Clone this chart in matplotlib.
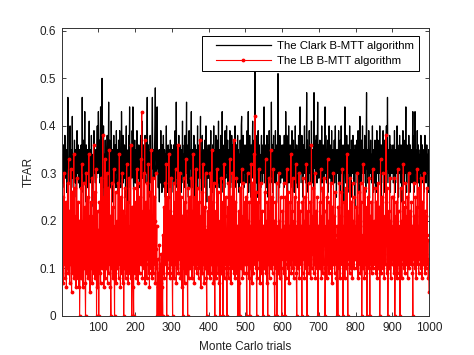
import matplotlib
matplotlib.use("Agg")
import matplotlib.pyplot as plt
from matplotlib.legend_handler import HandlerLine2D
import numpy as np

# TFAR values (in percent) for 1000 Monte Carlo trials
clark_pct = [
    31,34,28,33,36,30,27,32,38,31, 29,35,33,26,31,37,46,34,30,32, 28,33,40,31,24,33,35,29,42,32, 30,27,34,31,37,33,28,35,32,25, 33,39,30,31,36,28,32,35,30,27,
    33,29,36,31,26,46,34,30,37,32, 28,34,43,30,33,24,36,29,33,27, 35,31,27,34,41,30,33,28,35,31, 38,32,27,34,30,23,32,39,30,34, 31,28,35,33,29,34,40,30,33,43,
    34,30,37,28,32,44,31,35,29,50, 35,27,32,40,30,25,34,29,37,31, 28,35,32,38,30,26,33,45,31,29, 37,32,27,30,41,34,29,24,35,31, 32,38,28,34,30,36,29,27,39,32,
    30,35,31,26,37,33,28,39,30,34, 27,32,43,35,29,31,38,28,34,30, 36,29,32,25,35,40,30,33,23,31, 35,29,38,32,44,30,27,36,31,34, 29,39,32,44,30,26,35,31,37,28,
    32,28,35,30,39,31,24,34,29,36, 31,34,27,32,38,30,26,34,41,29, 34,30,36,27,32,29,38,31,28,35, 30,39,46,32,28,36,31,25,35,30, 38,32,28,34,26,36,46,31,35,29,
    34,29,36,40,48,35,30,32,38,44, 31,35,27,33,30,24,35,32,28,39, 30,34,26,36,31,28,38,32,27,35, 32,25,34,30,40,28,35,31,26,36, 31,35,28,32,27,37,30,34,36,29,
    35,30,32,26,36,31,28,34,39,30, 27,45,32,29,35,31,24,34,38,30, 32,36,28,34,26,35,30,32,41,31, 28,34,27,36,31,38,29,32,35,45, 30,34,28,36,25,32,39,31,27,35,
    31,36,43,29,34,27,35,32,28,38, 30,25,34,36,31,28,35,23,32,40, 29,34,30,36,27,32,35,42,29,34, 26,32,38,29,35,31,27,34,30,37, 32,28,40,31,24,35,29,34,36,29,
    34,30,36,27,32,39,29,35,31,26, 36,32,28,40,30,34,27,35,31,38, 29,24,34,37,28,32,41,31,27,35, 32,29,38,30,34,26,43,31,36,28, 35,30,32,27,39,31,29,34,40,30,
    32,37,28,34,26,35,31,39,30,27, 34,30,38,32,28,36,31,24,35,32, 29,40,31,34,27,36,30,32,38,28, 35,31,26,34,30,37,32,28,40,42, 30,34,28,38,32,27,35,31,36,30,
    34,28,36,31,39,30,32,43,26,35, 31,38,28,34,25,36,32,30,35,41, 29,34,31,37,27,53,32,30,38,28, 35,31,25,34,39,30,32,36,28,34, 31,27,35,38,30,32,28,36,34,30,
    44,32,28,36,31,35,27,34,38,30, 32,25,36,31,39,28,34,30,35,32, 45,31,28,36,26,34,38,30,32,35, 28,39,31,34,24,36,30,32,51,35, 30,34,27,38,32,28,36,31,34,29,
    32,36,30,34,27,38,31,35,28,43, 34,30,38,32,25,35,31,40,28,34, 30,36,32,27,35,31,39,28,34,30, 37,32,26,35,30,40,31,34,28,36, 32,27,35,30,38,31,34,28,44,32,
    30,35,31,38,28,34,25,36,32,30, 40,31,35,28,34,32,47,30,37,31, 26,35,32,39,30,34,28,36,31,41, 32,28,35,30,34,24,47,32,37,31, 35,30,38,32,28,34,45,31,36,29,
    34,30,37,32,26,35,31,40,28,34, 30,36,32,25,35,31,44,30,38,32, 28,35,31,37,26,34,30,40,32,29, 36,31,34,27,39,30,32,35,28,34, 31,37,28,32,40,30,35,25,34,31,
    35,30,32,39,28,34,31,37,26,32, 40,30,35,31,28,36,32,24,34,30, 44,32,28,35,31,38,30,34,26,36, 31,34,30,40,28,35,32,25,37,31, 34,30,38,32,28,35,31,23,36,32,
    30,35,31,37,28,34,39,30,32,26, 35,42,31,34,28,37,32,30,40,31, 34,28,35,31,38,30,32,26,36,47, 31,35,28,34,30,39,32,25,35,31, 37,30,34,28,32,40,31,35,26,34,
    32,28,37,31,35,26,34,39,30,32, 37,31,28,35,32,40,30,34,25,36, 31,35,30,32,39,28,34,31,37,26, 35,30,32,40,28,34,46,31,35,30, 34,28,38,32,26,36,31,35,30,34,
    31,36,28,34,30,39,32,26,35,31, 34,30,40,28,36,32,25,35,31,38, 30,34,28,36,32,24,35,31,39,30, 32,37,28,34,30,35,44,31,26,36, 32,30,35,28,38,31,34,26,36,32,
    30,35,32,28,36,43,31,34,26,38, 32,43,30,35,28,34,31,39,30,32, 36,28,34,31,25,35,32,38,30,34, 28,36,31,35,32,26,34,30,38,32, 35,28,32,36,31,34,30,26,35,29,
]

lb_pct = [
    13,9,19,25,7,15,30,11,21,8, 14,24,6,19,10,28,16,9,33,12, 22,7,16,11,31,18,5,14,26,9, 19,12,34,8,17,27,10,21,6,15, 29,11,18,8,24,13,6,20,0,10,
    17,27,8,14,32,11,20,6,18,28, 10,15,23,7,0,13,30,9,19,14, 25,8,16,34,11,21,5,15,24,10, 18,29,7,13,21,11,36,9,16,26, 8,19,12,31,0,15,6,22,11,18,
    0,14,24,9,18,7,29,12,21,10, 16,38,11,25,6,19,13,33,8,15, 22,10,30,12,7,18,27,9,15,35, 11,21,6,0,16,28,10,14,23,8, 17,31,12,0,19,9,26,7,15,11,
    20,10,16,28,8,14,34,11,19,6, 25,12,17,9,30,15,7,22,0,13, 10,27,16,8,21,12,32,9,18,24, 7,15,29,11,19,9,14,36,8,16, 0,23,11,18,6,0,27,13,9,20,
    12,24,8,16,31,10,19,7,28,13, 18,9,25,15,33,11,20,43,12,8, 22,14,30,10,17,37,7,14,24,11, 19,8,28,12,16,32,9,22,6,15, 26,10,18,35,12,8,21,13,29,9,
    16,25,11,20,7,30,14,10,19,0, 12,6,9,0,8,15,5,0,11,7, 13,0,10,6,0,17,9,23,12,8, 20,28,11,16,32,0,15,9,25,12, 19,34,10,15,8,22,13,29,11,18,
    9,0,21,12,28,8,16,24,11,31, 14,7,19,26,10,16,36,9,15,22, 12,30,8,18,11,25,6,15,21,0, 13,29,10,19,7,24,12,33,9,16, 22,11,0,18,27,8,15,10,25,13,
    19,10,29,14,8,22,16,34,11,18, 7,25,12,20,10,31,15,9,19,27, 11,16,8,24,13,37,10,18,6,21, 12,26,9,16,32,11,19,7,15,23, 10,30,14,8,0,18,11,22,9,15,
    25,12,18,8,30,11,20,15,35,9, 16,24,7,14,28,10,0,19,12,22, 8,15,31,11,18,9,26,13,7,20, 0,16,11,29,9,19,12,24,0,15, 10,32,13,8,21,11,25,16,9,0,
    15,23,10,28,8,18,12,33,11,19, 7,25,14,16,30,10,20,9,37,12, 18,8,24,11,15,29,9,19,13,0, 11,22,16,7,0,27,12,18,10,31, 15,8,21,12,28,9,16,24,11,19,
    14,25,9,0,18,30,11,20,8,15, 24,0,12,19,10,32,16,7,28,12, 20,9,34,15,11,42,18,10,26,13, 0,19,8,24,12,16,31,10,20,7, 15,28,11,18,9,22,13,0,19,11,
    18,10,26,13,33,9,20,12,7,24, 0,16,11,29,15,8,22,12,35,10, 19,13,25,9,16,31,11,20,7,0, 15,24,10,18,28,0,12,19,9,16, 30,11,20,8,15,25,10,18,0,13,
    22,12,16,28,9,19,11,0,25,15, 8,20,31,12,18,10,26,14,7,19, 11,24,15,34,9,16,22,12,29,10, 18,8,20,13,25,11,32,16,9,0, 19,12,24,10,15,30,8,18,13,22,
    11,19,15,0,24,9,16,29,12,20, 8,14,25,17,10,32,12,0,16,22, 11,28,15,9,19,12,24,8,17,36, 10,16,21,13,27,9,19,11,30,15, 8,22,12,18,10,25,15,0,19,11,
    16,24,10,19,31,12,8,21,14,27, 9,17,11,29,15,22,0,10,19,12, 25,8,16,33,11,20,13,9,24,15, 18,10,28,12,19,7,23,15,11,30, 13,21,9,17,26,11,16,8,0,19,
    12,0,23,15,10,28,17,8,21,13, 26,11,16,31,9,0,19,12,24,15, 8,21,13,27,10,17,34,11,0,16, 22,12,19,9,29,15,10,24,13,18, 8,28,11,20,15,10,25,16,12,19,
    15,23,10,18,30,12,8,21,13,26, 11,19,9,28,15,24,0,12,17,10, 32,13,20,8,16,27,11,19,9,23, 0,15,25,12,18,10,29,13,0,21, 11,16,24,9,19,13,31,10,17,12,
    20,11,17,27,9,15,24,12,8,19, 28,10,16,13,23,0,11,33,15,9, 19,25,12,17,10,30,13,8,21,16, 11,24,38,15,19,9,27,0,12,22, 16,10,29,13,20,8,17,25,11,15,
    19,12,25,9,16,29,0,13,21,10, 24,15,8,17,31,11,22,13,9,19, 0,16,27,11,20,8,15,24,12,32, 10,17,13,23,9,28,16,11,21,12, 25,8,19,15,30,10,17,13,22,11,
    15,24,11,19,9,0,17,28,12,21, 10,16,25,13,8,23,12,31,15,11, 19,9,27,16,12,21,10,29,13,17, 8,24,15,11,19,30,12,16,9,22, 13,21,10,17,27,11,16,8,12,5,
]

x_ticks = [100, 200, 300, 400, 500, 600, 700, 800, 900, 1000]
y_ticks = [0, 0.1, 0.2, 0.3, 0.4, 0.5, 0.6]
y_tick_labels = ["0", "0.1", "0.2", "0.3", "0.4", "0.5", "0.6"]
series_labels = ["The Clark B-MTT algorithm", "The LB B-MTT algorithm"]

clark = np.array(clark_pct) / 100.0
lb = np.array(lb_pct) / 100.0
trials = np.arange(1, len(clark) + 1)

plt.rcParams['font.family'] = ['Liberation Sans', 'DejaVu Sans']


class IndentedLine(HandlerLine2D):
    """Legend handle indented to the right, MATLAB-style."""
    def __init__(self, indent, **kw):
        super().__init__(**kw)
        self.indent = indent

    def create_artists(self, legend, orig_handle, xdescent, ydescent,
                       width, height, fontsize, trans):
        return super().create_artists(legend, orig_handle,
                                      xdescent - self.indent, ydescent,
                                      width - self.indent, height,
                                      fontsize, trans)


fig = plt.figure(figsize=(4.74, 3.55), dpi=100)
ax = fig.add_axes([62/474, 1 - 316/355, (429-62)/474, (316-28)/355])

l1, = ax.plot(trials, clark, color='black', lw=0.9, label=series_labels[0])
l2, = ax.plot(trials, lb, color='red', lw=0.8, marker='.', markersize=3.5,
              label=series_labels[1])

ax.set_xlim(1, 1000)
ax.set_ylim(0, 0.606)
ax.set_xticks(x_ticks)
ax.set_yticks(y_ticks)
ax.set_yticklabels(y_tick_labels)
ax.tick_params(direction='in', top=True, right=True, length=3, width=0.6,
               labelsize=8.5, colors='#222222', pad=4)
for s in ax.spines.values():
    s.set_linewidth(0.7)
    s.set_color('#333333')

ax.set_xlabel('Monte Carlo trials', fontsize=8.5, color='#222222', labelpad=5)
ax.set_ylabel('TFAR', fontsize=8.5, color='#222222', labelpad=4)

fs = 8.2
indent = 6.0  # points
leg = ax.legend(handles=[l1, l2], loc='upper right',
                bbox_to_anchor=(1 - 10/367, 1 - 8/288),
                fontsize=fs, frameon=True, fancybox=False, framealpha=1,
                edgecolor='black', borderaxespad=0, handlelength=5.6,
                handletextpad=0.5, borderpad=0.45, labelspacing=0.4,
                handler_map={l1: IndentedLine(indent), l2: IndentedLine(indent)})
leg.get_frame().set_linewidth(0.7)

fig.savefig('out.png', dpi=100)
